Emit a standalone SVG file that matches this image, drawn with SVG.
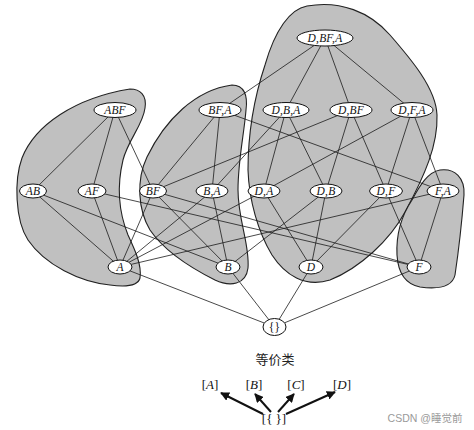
<svg xmlns="http://www.w3.org/2000/svg" width="474" height="430" viewBox="0 0 474 430">
<style>
.blob{fill:#c0c0c0;stroke:#222;stroke-width:1.1}
.e line{stroke:#1a1a1a;stroke-width:0.8}
.n ellipse{fill:#fff;stroke:#111;stroke-width:1}
.n text{font-family:"Liberation Serif",serif;font-style:italic;font-size:11.5px;letter-spacing:0.2px;text-anchor:middle;fill:#111}
.arr line{stroke:#111;stroke-width:2}
.b{font-family:"Liberation Serif",serif;font-size:13px;text-anchor:middle;fill:#111}
</style>
<defs>
<marker id="ah" viewBox="0 0 10 10" refX="9" refY="5" markerWidth="4.5" markerHeight="4.5" orient="auto" markerUnits="strokeWidth">
<path d="M0,0 L10,5 L0,10 Z" fill="#111"/>
</marker>
</defs>
<rect width="474" height="430" fill="#fff"/>
<g id="blobs">
<path class="blob" d="M130,89 C140,89 147,95 145,108 C143,125 128,140 123,160 C117,185 118,210 128,235 C135,250 142,265 140,278 C138,286 125,287 110,285 C80,282 45,265 28,240 C15,220 14,180 22,158 C35,125 75,98 130,89 Z"/>
<path class="blob" d="M232,85 C244,85 248,95 246,110 C244,135 238,160 238,190 C238,220 250,245 248,268 C246,285 230,287 215,280 C195,270 165,252 150,230 C138,210 136,180 147,157 C165,120 195,90 232,85 Z"/>
<path class="blob" d="M307,6 C340,0 370,12 390,35 C410,58 436,88 437,115 C438,145 425,175 405,212 C390,240 360,268 330,280 C305,288 285,275 272,255 C258,232 249,200 248,170 C248,130 255,95 265,65 C275,30 290,9 307,6 Z"/>
<path class="blob" d="M440,170 C455,168 465,178 464,195 C462,220 458,255 455,275 C452,288 435,289 420,287 C405,284 398,272 397,255 C396,235 402,215 412,200 C420,185 428,172 440,170 Z"/>
</g>
<g id="connectors" class="e">
<line x1="115" y1="110" x2="33" y2="191"/>
<line x1="115" y1="110" x2="92" y2="191"/>
<line x1="115" y1="110" x2="153" y2="191"/>
<line x1="220" y1="110" x2="153" y2="191"/>
<line x1="220" y1="110" x2="212" y2="191"/>
<line x1="220" y1="110" x2="443" y2="191"/>
<line x1="325" y1="38" x2="220" y2="110"/>
<line x1="325" y1="38" x2="286" y2="110"/>
<line x1="325" y1="38" x2="351" y2="110"/>
<line x1="325" y1="38" x2="412" y2="110"/>
<line x1="286" y1="110" x2="212" y2="191"/>
<line x1="286" y1="110" x2="264" y2="191"/>
<line x1="286" y1="110" x2="326" y2="191"/>
<line x1="351" y1="110" x2="153" y2="191"/>
<line x1="351" y1="110" x2="326" y2="191"/>
<line x1="351" y1="110" x2="386" y2="191"/>
<line x1="412" y1="110" x2="264" y2="191"/>
<line x1="412" y1="110" x2="386" y2="191"/>
<line x1="412" y1="110" x2="443" y2="191"/>
<line x1="33" y1="191" x2="120" y2="267"/>
<line x1="33" y1="191" x2="228" y2="267"/>
<line x1="92" y1="191" x2="120" y2="267"/>
<line x1="92" y1="191" x2="419" y2="267"/>
<line x1="153" y1="191" x2="120" y2="267"/>
<line x1="153" y1="191" x2="228" y2="267"/>
<line x1="153" y1="191" x2="419" y2="267"/>
<line x1="212" y1="191" x2="228" y2="267"/>
<line x1="212" y1="191" x2="120" y2="267"/>
<line x1="264" y1="191" x2="311" y2="267"/>
<line x1="264" y1="191" x2="120" y2="267"/>
<line x1="326" y1="191" x2="311" y2="267"/>
<line x1="326" y1="191" x2="228" y2="267"/>
<line x1="386" y1="191" x2="311" y2="267"/>
<line x1="386" y1="191" x2="419" y2="267"/>
<line x1="443" y1="191" x2="419" y2="267"/>
<line x1="443" y1="191" x2="120" y2="267"/>
<line x1="120" y1="267" x2="274.5" y2="327"/>
<line x1="228" y1="267" x2="274.5" y2="327"/>
<line x1="311" y1="267" x2="274.5" y2="327"/>
<line x1="419" y1="267" x2="274.5" y2="327"/>
</g>
<g id="n-DBFA" class="n"><ellipse cx="325" cy="38" rx="28" ry="8"/><text x="325" y="42">D,BF,A</text></g>
<g id="n-ABF" class="n"><ellipse cx="115" cy="110" rx="21" ry="7.5"/><text x="115" y="114">ABF</text></g>
<g id="n-BFA" class="n"><ellipse cx="220" cy="110" rx="21" ry="7.5"/><text x="220" y="114">BF,A</text></g>
<g id="n-DBA" class="n"><ellipse cx="286" cy="110" rx="23" ry="7.5"/><text x="286" y="114">D,B,A</text></g>
<g id="n-DBF" class="n"><ellipse cx="351" cy="110" rx="21" ry="7.5"/><text x="351" y="114">D,BF</text></g>
<g id="n-DFA" class="n"><ellipse cx="412" cy="110" rx="21" ry="7.5"/><text x="412" y="114">D,F,A</text></g>
<g id="n-AB" class="n"><ellipse cx="33" cy="191" rx="13.5" ry="7"/><text x="33" y="195">AB</text></g>
<g id="n-AF" class="n"><ellipse cx="92" cy="191" rx="14" ry="7"/><text x="92" y="195">AF</text></g>
<g id="n-BF" class="n"><ellipse cx="153" cy="191" rx="13.5" ry="7"/><text x="153" y="195">BF</text></g>
<g id="n-BA" class="n"><ellipse cx="212" cy="191" rx="16" ry="7"/><text x="212" y="195">B,A</text></g>
<g id="n-DA" class="n"><ellipse cx="264" cy="191" rx="16" ry="7"/><text x="264" y="195">D,A</text></g>
<g id="n-DB" class="n"><ellipse cx="326" cy="191" rx="16" ry="7"/><text x="326" y="195">D,B</text></g>
<g id="n-DF" class="n"><ellipse cx="386" cy="191" rx="16.5" ry="7"/><text x="386" y="195">D,F</text></g>
<g id="n-FA" class="n"><ellipse cx="443" cy="191" rx="16" ry="7"/><text x="443" y="195">F,A</text></g>
<g id="n-A" class="n"><ellipse cx="120" cy="267" rx="12" ry="7"/><text x="120" y="271">A</text></g>
<g id="n-B" class="n"><ellipse cx="228" cy="267" rx="12" ry="7"/><text x="228" y="271">B</text></g>
<g id="n-D" class="n"><ellipse cx="311" cy="267" rx="12" ry="7"/><text x="311" y="271">D</text></g>
<g id="n-F" class="n"><ellipse cx="419" cy="267" rx="12" ry="7"/><text x="419" y="271">F</text></g>
<g id="n-empty" class="n"><ellipse cx="274.5" cy="327" rx="11.5" ry="8.5"/><text x="274.5" y="331" style="font-style:normal">{}</text></g>
<text x="275" y="364" style="font-family:'Noto Sans CJK SC',sans-serif;font-size:13px;text-anchor:middle;fill:#222">等价类</text>
<g id="classes">
<text class="b" x="210" y="389">[<tspan font-style="italic">A</tspan>]</text>
<text class="b" x="254" y="389">[<tspan font-style="italic">B</tspan>]</text>
<text class="b" x="296" y="389">[<tspan font-style="italic">C</tspan>]</text>
<text class="b" x="342" y="389">[<tspan font-style="italic">D</tspan>]</text>
<text class="b" x="274" y="423">[{ }]</text>
</g>
<g id="arrows" class="arr">
<line x1="263" y1="414" x2="221" y2="393" marker-end="url(#ah)"/>
<line x1="271" y1="412" x2="255" y2="394" marker-end="url(#ah)"/>
<line x1="278" y1="412" x2="294" y2="394" marker-end="url(#ah)"/>
<line x1="286" y1="414" x2="335" y2="392" marker-end="url(#ah)"/>
</g>
<text x="425" y="422" style="font-family:'Liberation Sans','Noto Sans CJK SC',sans-serif;font-size:10.5px;text-anchor:middle;fill:#9a9a9a">CSDN @睡觉前</text>
</svg>
